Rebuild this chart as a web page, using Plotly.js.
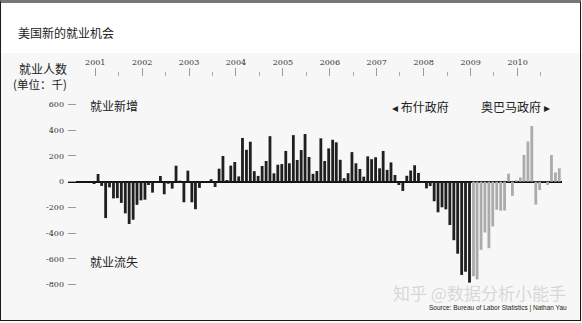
<!DOCTYPE html>
<html>
<head>
<meta charset="utf-8">
<script src="https://cdn.plot.ly/plotly-3.0.1.min.js"></script>
<style>
  html, body { margin: 0; padding: 0; background: #ffffff; }
  #wrap { position: relative; width: 582px; height: 323px; overflow: hidden; }
  #chart { position: absolute; left: 0; top: 0; width: 582px; height: 323px; }
  #frame { position: absolute; left: 0; top: 0; width: 581px; height: 321px; box-sizing: border-box;
           border: 1.5px solid #1a1a1a; border-top: 3px solid #777; pointer-events: none; }
</style>
</head>
<body>
<div id="wrap"><div id="chart"></div><div id="frame"></div></div>
<script>
// Monthly change in US nonfarm payroll jobs (thousands), Jan 2001 - Dec 2010
const years = [2001, 2002, 2003, 2004, 2005, 2006, 2007, 2008, 2009, 2010];
const jobs2001 = [-18, 60, -33, -283, -44, -130, -128, -165, -246, -329, -296, -180];
const jobs2002 = [-145, -140, -26, -85, -8, 44, -98, -16, -54, 124, 8, -160];
const jobs2003 = [86, -160, -214, -48, -6, -2, 19, -41, 101, 200, 13, 125];
const jobs2004 = [153, 41, 340, 248, 311, 82, 45, 122, 161, 354, 65, 132];
const jobs2005 = [137, 239, 143, 362, 169, 246, 371, 192, 61, 83, 337, 161];
const jobs2006 = [259, 326, 306, 170, 27, 66, 230, 143, 99, 39, 197, 175];
const jobs2007 = [190, 104, 239, 92, 150, 52, -26, -72, 46, 87, 128, 68];
const jobs2008 = [-8, -52, -34, -152, -238, -199, -215, -337, -455, -560, -725, -700];
const jobs2009 = [-785, -735, -760, -530, -395, -517, -348, -218, -225, -224, 62, -110];
const jobs2010 = [10, 33, 208, 312, 433, -178, -65, -2, -26, 208, 71, 104];
const obamaStart = '2009-02-01';   // first month shown in the Obama colour

const yTickVals = [-800, -600, -400, -200, 0, 200, 400, 600];
const yTickText = ['-800', '-600', '-400', '-200', '0', '200', '400', '600'];
const yearLabels = ['2001', '2002', '2003', '2004', '2005', '2006', '2007', '2008', '2009', '2010'];

const yearly = [jobs2001, jobs2002, jobs2003, jobs2004, jobs2005, jobs2006, jobs2007, jobs2008, jobs2009, jobs2010];
const months = [];
const values = [];
years.forEach((y, k) => {
  yearly[k].forEach((v, m) => {
    months.push(y + '-' + String(m + 1).padStart(2, '0') + '-01');
    values.push(v);
  });
});
const colors = months.map(d => d < obamaStart ? '#1f1f1f' : '#ababab');

// layout geometry (pixels)
const W = 582, H = 323;
const L = 68, R = 562, T = 77, B = 300;
const px = x => (x - L) / (R - L);
const py = y => (B - y) / (B - T);

const cjk = '"Noto Sans CJK SC", "Noto Sans", sans-serif';
const serif = '"DejaVu Serif", "Liberation Serif", serif';

function note(text, x, y, size, anchor, color, family) {
  return { text: text, xref: 'paper', yref: 'paper', x: px(x), y: py(y),
           xanchor: anchor || 'left', yanchor: 'middle', showarrow: false, borderpad: 0,
           font: { family: family || cjk, size: size || 12, color: color || '#222' } };
}

const trace = {
  type: 'bar', x: months, y: values,
  marker: { color: colors, line: { width: 0 } },
  hoverinfo: 'x+y'
};

const layout = {
  width: W, height: H,
  margin: { l: L, r: W - R, t: T, b: H - B, pad: 0 },
  paper_bgcolor: '#f7f7f7', plot_bgcolor: 'rgba(0,0,0,0)',
  showlegend: false, bargap: 0.22,
  xaxis: {
    type: 'date', side: 'top', range: ['2000-06-12', '2010-12-22'],
    tickmode: 'array', tickvals: years.map(y => y + '-01-10'), ticktext: yearLabels,
    ticks: 'outside', ticklen: 8, tickwidth: 1, tickcolor: '#9a9a9a',
    tickfont: { family: serif, size: 8, color: '#333' },
    minor: { ticks: 'outside', ticklen: 4, tickwidth: 1, tickcolor: '#aaaaaa',
             tickmode: 'array', tickvals: years.map(y => y + '-07-10') },
    showgrid: false, showline: false, zeroline: false, fixedrange: true
  },
  yaxis: {
    range: [-920, 814],
    tickmode: 'array', tickvals: yTickVals, ticktext: yTickText,
    ticks: 'inside', ticklen: 8, tickwidth: 1, tickcolor: '#9a9a9a',
    ticklabelstandoff: 3,
    tickfont: { family: serif, size: 8, color: '#333' },
    showgrid: false, showline: false,
    zeroline: true, zerolinecolor: '#111', zerolinewidth: 2, fixedrange: true
  },
  shapes: [
    { type: 'rect', layer: 'below', xref: 'paper', yref: 'paper',
      x0: px(-5), x1: px(W + 5), y0: py(53), y1: py(-5),
      fillcolor: '#ffffff', line: { width: 0 } }
  ],
  annotations: [
    note('美国新的就业机会', 17, 32.5, 12),
    note('就业人数', 18, 68.5, 12),
    note('(单位：千)', 12, 83.5, 11.5),
    note('就业新增', 89, 105.5, 12),
    note('就业流失', 89, 261, 12),
    note('◂ 布什政府', 391, 106, 12),
    note('奥巴马政府 ▸', 480, 106, 12),
    note('知乎 @数据分析小能手', 567, 292.5, 17, 'right', 'rgba(205,205,205,0.75)'),
    note('Source: Bureau of Labor Statistics | Nathan Yau', 568, 307.5, 6.5, 'right', '#222',
         '"Liberation Sans", Arial, sans-serif')
  ]
};

Plotly.newPlot('chart', [trace], layout, { displayModeBar: false, staticPlot: true });
</script>
</body>
</html>
